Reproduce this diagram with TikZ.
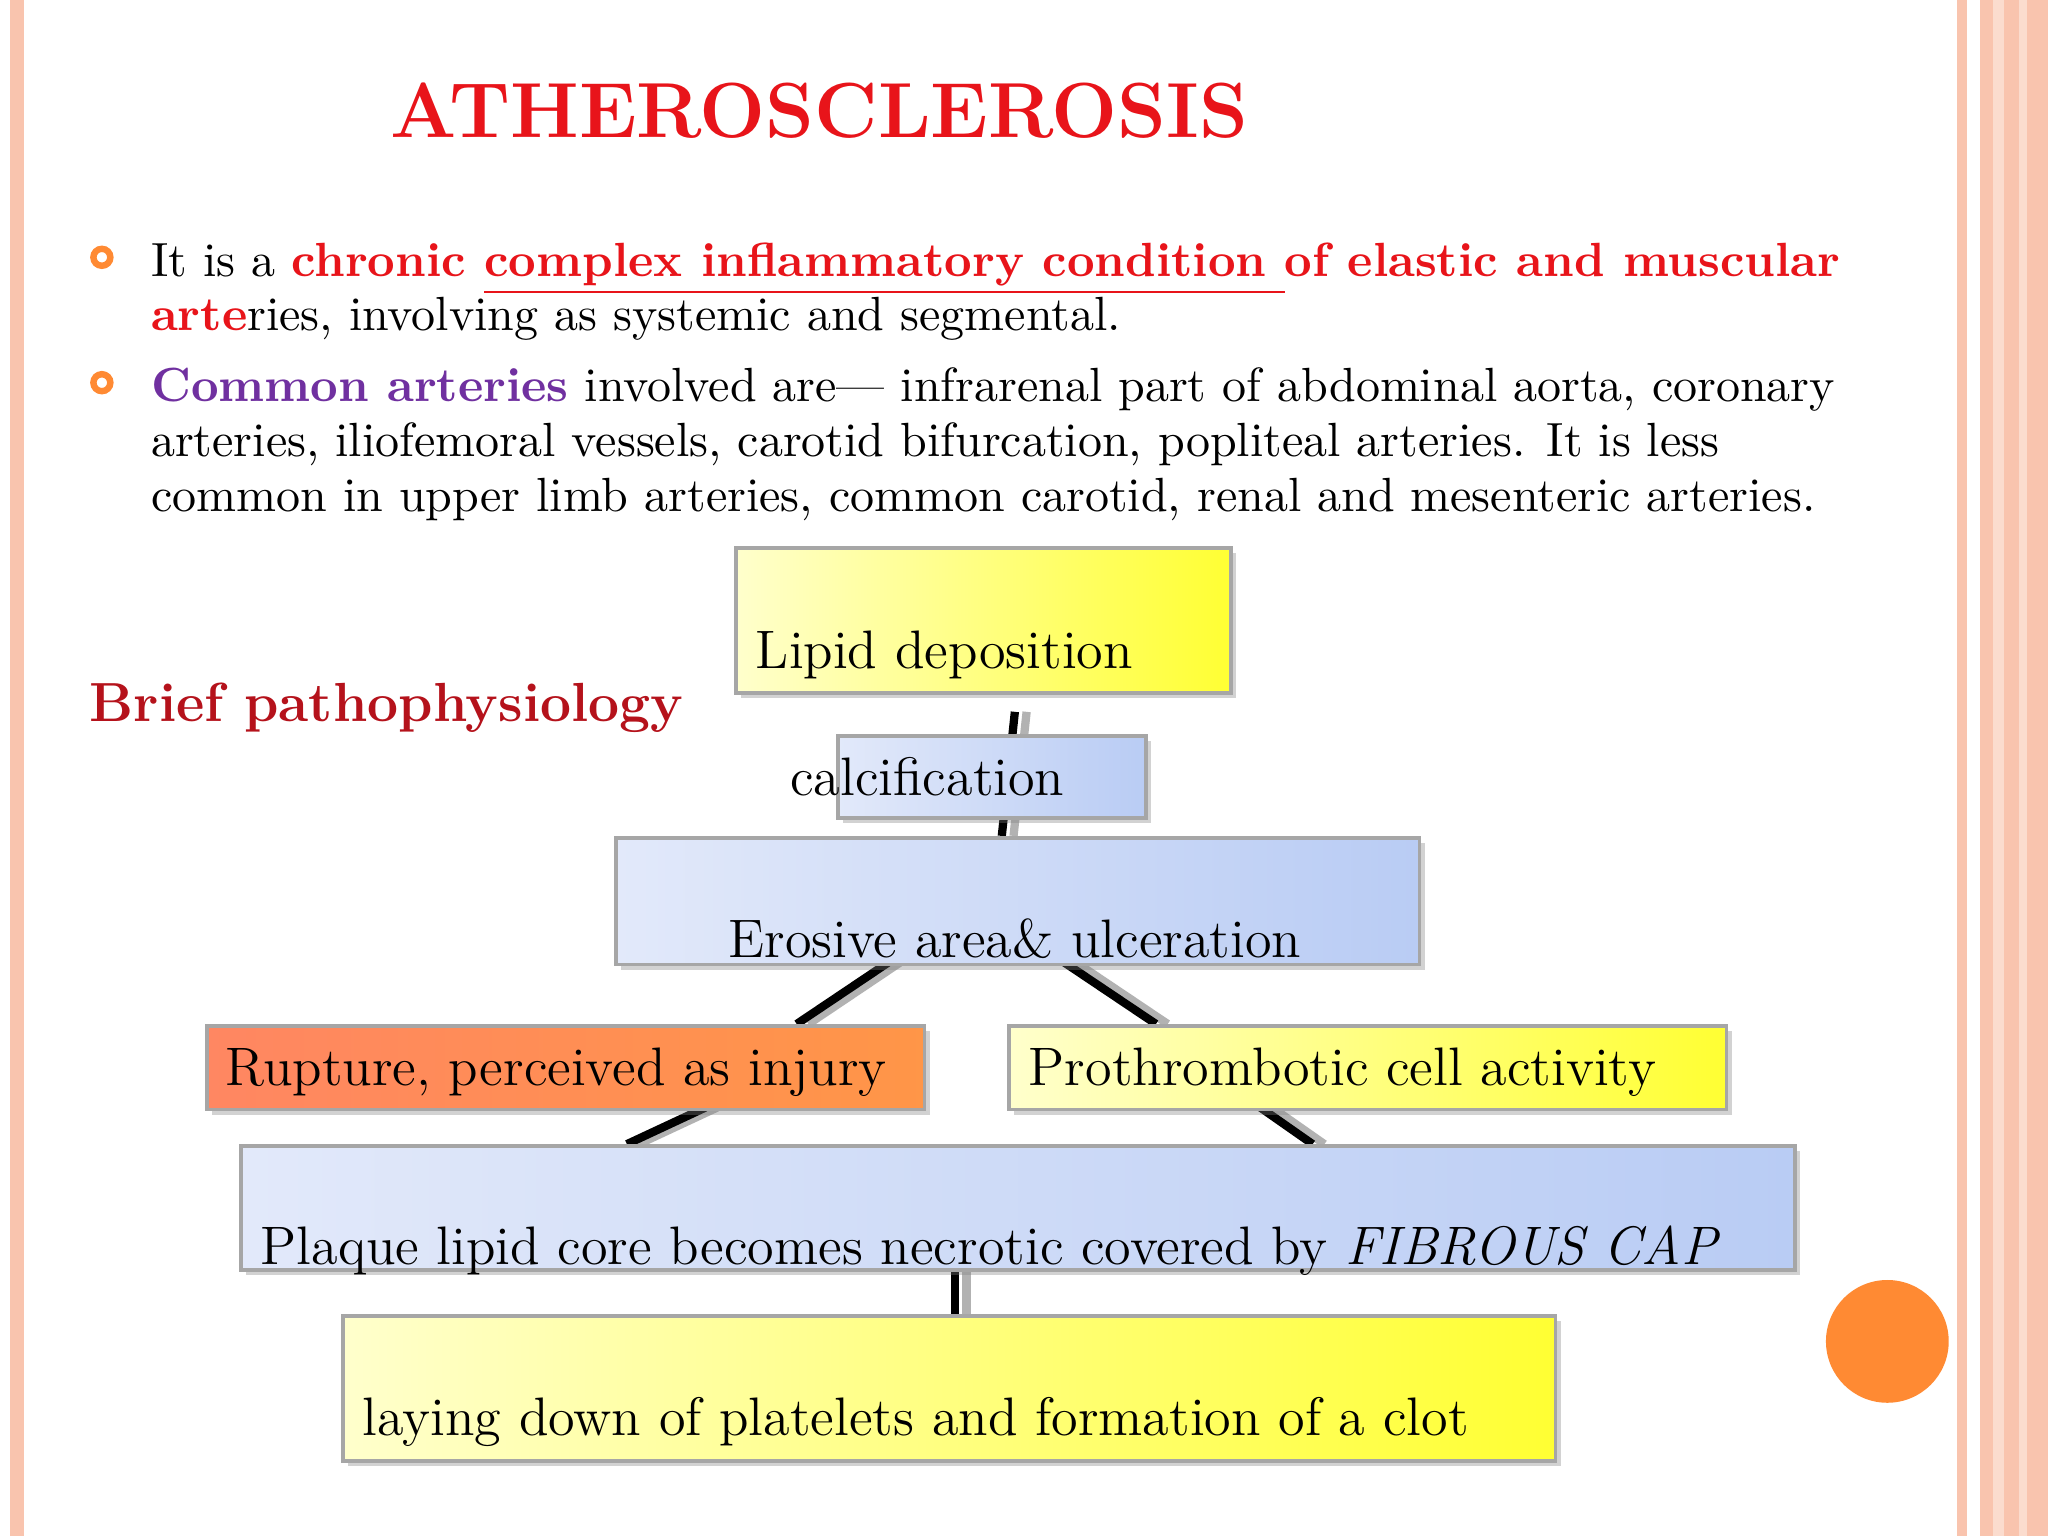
\documentclass[tikz,border=0pt]{standalone}
\usetikzlibrary{shadows,calc}
\definecolor{tred}{HTML}{E8141A}
\definecolor{dred}{HTML}{B5121B}
\definecolor{purp}{HTML}{7030A0}
\definecolor{salm}{HTML}{F9C4AE}
\definecolor{orng}{HTML}{FF8A33}
\definecolor{bll}{HTML}{E2E9FA}
\definecolor{bld}{HTML}{B9CCF4}
\tikzset{
 box/.style={draw=gray!70,line width=0.8pt,drop shadow={opacity=0.35,shadow xshift=0.4mm,shadow yshift=-0.4mm},inner sep=0},
 ybox/.style={box,left color=yellow!20,right color=yellow!80},
 bbox/.style={box,left color=bll,right color=bld},
 obox/.style={box,left color=orng!60!red!70,right color=orng!90},
 btxt/.style={font=\fontsize{11.8}{14}\selectfont,inner sep=0},
 dbl/.style={line width=1.8pt,black},
 dblg/.style={line width=1.8pt,gray!60}
}
\begin{document}
\begin{tikzpicture}[x=0.01cm,y=-0.01cm]
\useasboundingbox (0,0) rectangle (1568,1176);
\fill[white] (0,0) rectangle (1568,1176);
\fill[salm] (8,0) rectangle (18,1176);
\fill[salm] (1498,0) rectangle (1506,1176);
\fill[salm] (1516,0) rectangle (1568,1176);
\fill[salm!60] (1526,0) rectangle (1534,1176);
\fill[salm!60] (1546,0) rectangle (1552,1176);
\node[font=\fontsize{17}{20}\selectfont\bfseries,text=tred] (title) at (627,85) {ATHEROSCLEROSIS};
\draw[orng,line width=1.4pt] (78,197) circle (6.5) (78,293) circle (6.5);
\node[anchor=north west,inner sep=0,align=left,font=\fontsize{10.45}{11.9}\selectfont] (b1) at (115,185)
 {It is a \textcolor{tred}{\bfseries chronic \underline{complex inflammatory condition }of elastic and muscular}\\
 \textcolor{tred}{\bfseries arte}ries, involving as systemic and segmental.};
\node[anchor=north west,inner sep=0,align=left,font=\fontsize{10.45}{11.9}\selectfont] (b2) at (115,281)
 {\textcolor{purp}{\bfseries Common arteries} involved are--- infrarenal part of abdominal aorta, coronary\\
 arteries, iliofemoral vessels, carotid bifurcation, popliteal arteries. It is less\\
 common in upper limb arteries, common carotid, renal and mesenteric arteries.};
\node[anchor=west,inner sep=0,text=dred,font=\fontsize{12}{14}\selectfont\bfseries] (bp) at (68,542) {Brief pathophysiology};
% connectors (behind boxes)
\coordinate (c1a) at (777,545); \coordinate (c1b) at (767,640);
\coordinate (c2a) at (680,737); \coordinate (c2b) at (610,784);
\coordinate (c3a) at (815,737); \coordinate (c3b) at (885,784);
\coordinate (c4a) at (540,848); \coordinate (c4b) at (480,876);
\coordinate (c5a) at (965,848); \coordinate (c5b) at (1005,876);
\coordinate (c6a) at (731,971); \coordinate (c6b) at (731,1006);
\foreach \a/\b in {c1a/c1b,c2a/c2b,c3a/c3b,c4a/c4b,c5a/c5b,c6a/c6b}{
 \draw[dblg] ($(\a)+(9,0)$) -- ($(\b)+(9,0)$);
 \draw[dbl] (\a) -- (\b);}
\node[ybox,minimum width=3.79cm,minimum height=1.11cm,anchor=north west] (lip) at (562,418) {};
\node[btxt,anchor=base west] at (578,512) {Lipid deposition};
\node[bbox,minimum width=2.36cm,minimum height=0.63cm,anchor=north west] (cal) at (640,562) {};
\node[btxt,anchor=base] at (710,609) {calcification};
\node[bbox,minimum width=6.15cm,minimum height=0.97cm,anchor=north west] (ero) at (470,640) {};
\node[btxt,anchor=base] at (777,733) {Erosive area\& ulceration};
\node[obox,minimum width=5.49cm,minimum height=0.64cm,anchor=north west] (rup) at (157,784) {};
\node[btxt,anchor=base west] at (172,831) {Rupture, perceived as injury};
\node[ybox,minimum width=5.49cm,minimum height=0.64cm,anchor=north west] (pro) at (771,784) {};
\node[btxt,anchor=base west] at (787,831) {Prothrombotic cell activity};
\node[bbox,minimum width=11.89cm,minimum height=0.95cm,anchor=north west] (pla) at (183,876) {};
\node[btxt,anchor=base west] at (199,968) {Plaque lipid core becomes necrotic covered by \textit{FIBROUS CAP}};
\node[ybox,minimum width=9.28cm,minimum height=1.11cm,anchor=north west] (lay) at (261,1006) {};
\node[btxt,anchor=base west] at (277,1099) {laying down of platelets and formation of a clot};
\fill[orng] (1445,1027) circle (47);
\end{tikzpicture}
\end{document}
